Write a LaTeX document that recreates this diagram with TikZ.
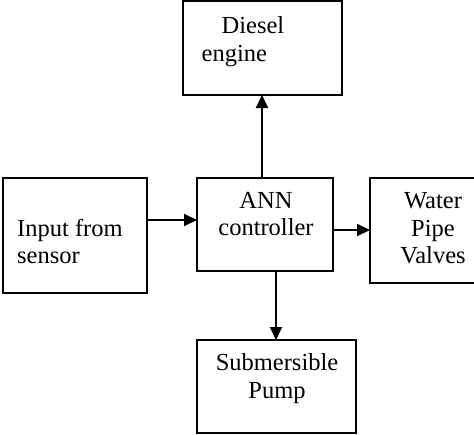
\documentclass[tikz,border=0pt]{standalone}
\usepackage{fontspec}
\setmainfont{Liberation Serif}
\usetikzlibrary{arrows.meta}
\tikzset{
  block/.style={draw, line width=1.9pt, inner sep=0pt, outer sep=0pt},
  blocktext/.style={inner sep=0pt, font=\fontsize{24.5}{27.5}\selectfont},
  link/.style={line width=1.9pt, -{Triangle[length=13pt,width=12pt]}}
}
\begin{document}
\begin{tikzpicture}[x=1pt,y=-1pt]
    \useasboundingbox (0,0) rectangle (474,434);

    % Blocks
    \node[block, minimum width=159pt, minimum height=94pt] (diesel) at (262.5,48) {};
    \node[block, minimum width=144pt, minimum height=115pt] (input) at (75,235.5) {};
    \node[block, minimum width=136pt, minimum height=93pt] (ann) at (265,224.5) {};
    \node[block, minimum width=106pt, minimum height=105pt] (valves) at (423,230.5) {};
    \node[block, minimum width=159pt, minimum height=93pt] (pump) at (276.5,386.5) {};

    % Texts
    \node[blocktext, align=left] (diesel text) at (243,41.4) {\hspace*{20pt}Diesel\\engine};
    \node[blocktext, align=left, anchor=west] (input text) at (17,241.4) {Input from\\sensor};
    \node[blocktext, align=center] (ann text) at (266,214) {ANN\\controller};
    \node[blocktext, align=center] (valves text) at (433,228.6) {Water\\Pipe\\Valves};
    \node[blocktext, align=center] (pump text) at (277,378.4) {Submersible\\Pump};

    % Connections
    \draw[link] ([yshift=15.5pt]input.east) -- ([yshift=15.5pt]input.east -| ann.west);
    \draw[link] ([yshift=-5.5pt]ann.east) -- ([yshift=-5.5pt]ann.east -| valves.west);
    \draw[link] ([xshift=-3pt]ann.north) -- ([xshift=-3pt]ann.north |- diesel.south);
    \draw[link] ([xshift=11pt]ann.south) -- ([xshift=11pt]ann.south |- pump.north);
\end{tikzpicture}
\end{document}
